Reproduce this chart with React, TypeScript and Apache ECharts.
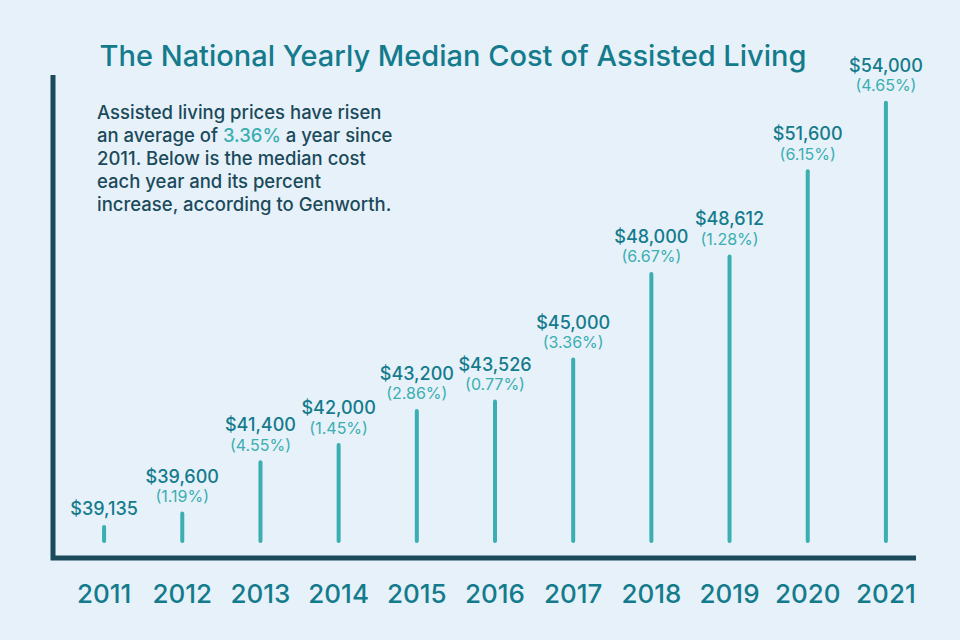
import { useEffect, useRef } from 'react';
import * as echarts from 'echarts';

const years = ['2011', '2012', '2013', '2014', '2015', '2016', '2017', '2018', '2019', '2020', '2021'];
const costs = [39135, 39600, 41400, 42000, 43200, 43526, 45000, 48000, 48612, 51600, 54000];
const increases: (number | null)[] = [null, 1.19, 4.55, 1.45, 2.86, 0.77, 3.36, 6.67, 1.28, 6.15, 4.65];

const FONT = 'Inter, "Noto Sans", sans-serif';
const DARK = '#1b4a5a';
const TEAL = '#137b8c';
const LIGHT = '#3aaeb1';

function App() {
  const chartRef = useRef<HTMLDivElement>(null);

  useEffect(() => {
    document.body.style.margin = '0';
    if (!chartRef.current) return;
    const chart = echarts.init(chartRef.current, null, { renderer: 'svg' });

    chart.setOption({
      animation: false,
      backgroundColor: '#e7f1fa',
      textStyle: { fontFamily: FONT },
      title: {
        text: 'The National Yearly Median Cost of Assisted Living',
        left: 448,
        top: 36,
        textAlign: 'center',
        textStyle: { fontFamily: FONT, fontSize: 29, fontWeight: 500, color: TEAL },
      },
      grid: { left: 65, right: 35, top: 75, bottom: 97 },
      xAxis: {
        type: 'category',
        data: years,
        axisLine: { show: false },
        axisTick: { show: false },
        axisLabel: { interval: 0, fontFamily: FONT, fontSize: 26, fontWeight: 500, color: TEAL, margin: 37 },
      },
      yAxis: {
        type: 'value',
        min: 38500,
        max: 54900,
        show: false,
        splitLine: { show: false },
      },
      graphic: [
        {
          type: 'polyline',
          shape: { points: [[53, 75], [53, 558], [916, 558]] },
          style: { stroke: DARK, lineWidth: 5, fill: null },
        },
        {
          type: 'text',
          left: 97,
          top: 102,
          style: {
            text:
              '{a|Assisted living prices have risen}\n' +
              '{a|an average of }{b|3.36%}{a| a year since}\n' +
              '{a|2011. Below is the median cost}\n' +
              '{a|each year and its percent}\n' +
              '{a|increase, according to Genworth.}',
            rich: {
              a: { fontFamily: FONT, fontSize: 18.5, fontWeight: 500, fill: DARK, lineHeight: 23 },
              b: { fontFamily: FONT, fontSize: 18.5, fontWeight: 500, fill: LIGHT, lineHeight: 23 },
            },
          },
        },
      ],
      series: [
        {
          type: 'bar',
          data: costs,
          barWidth: 4,
          itemStyle: { color: LIGHT, borderRadius: 2 },
          label: {
            show: true,
            position: 'top',
            distance: 6,
            align: 'center',
            formatter: (p: { dataIndex: number }) => {
              const v = '$' + costs[p.dataIndex].toLocaleString('en-US');
              const inc = increases[p.dataIndex];
              return inc === null ? `{v|${v}}` : `{v|${v}}\n{p|(${inc.toFixed(2)}%)}`;
            },
            rich: {
              v: { fontFamily: FONT, fontSize: 18, fontWeight: 500, color: TEAL, lineHeight: 21, align: 'center' },
              p: { fontFamily: FONT, fontSize: 16, fontWeight: 400, color: LIGHT, lineHeight: 19, align: 'center' },
            },
          },
        },
      ],
    });

    return () => chart.dispose();
  }, []);

  return <div ref={chartRef} style={{ width: '960px', height: '640px' }} />;
}

export default App;
